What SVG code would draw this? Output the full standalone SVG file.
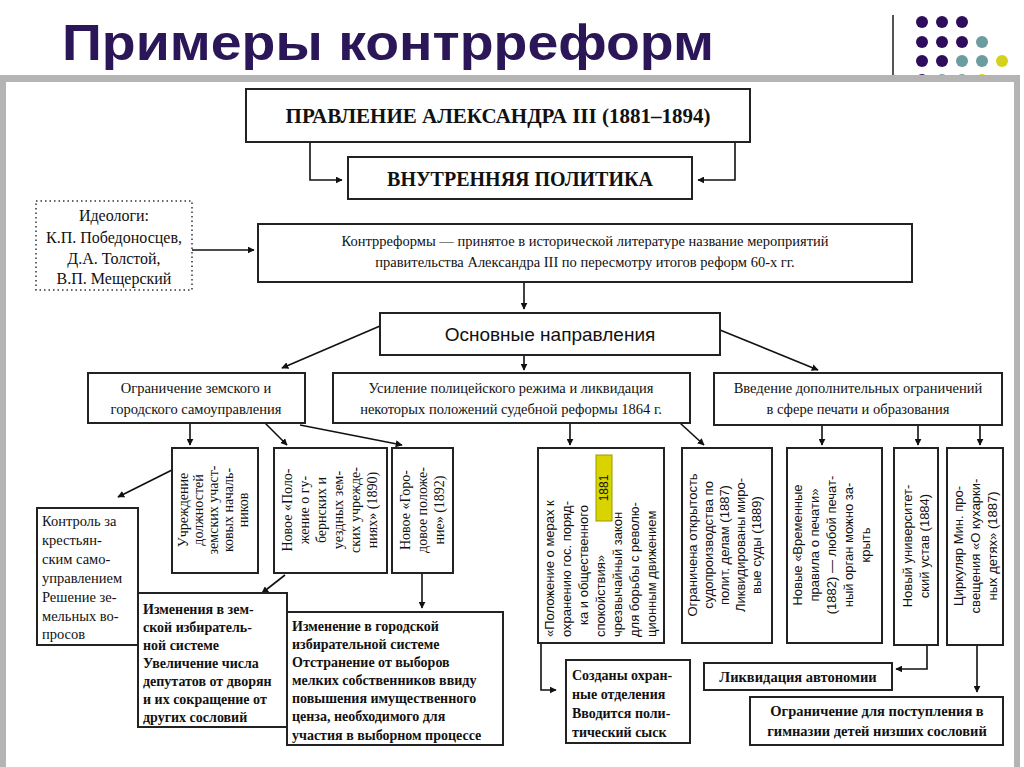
<svg xmlns="http://www.w3.org/2000/svg" width="1024" height="767" viewBox="0 0 1024 767">
<defs>
<marker id="ar" viewBox="0 0 10 10" refX="9" refY="5" markerWidth="7" markerHeight="7" orient="auto-start-reverse" markerUnits="userSpaceOnUse"><path d="M0,0 L10,5 L0,10 z" fill="#111"/></marker>
<style>
.b{fill:#fff;stroke:#222;stroke-width:2}
.t{font-family:"Liberation Serif",serif;fill:#111;text-anchor:middle}
.tb{font-family:"Liberation Serif",serif;font-weight:bold;fill:#111}
.s{font-family:"Liberation Sans",Arial,sans-serif;fill:#111;text-anchor:middle}
.c{fill:none;stroke:#111;stroke-width:1.6;marker-end:url(#ar)}
.dot{stroke:none}
</style>
</defs>
<rect width="1024" height="767" fill="#fff"/>
<text x="62" y="60" font-family="Liberation Sans,Arial,sans-serif" font-size="50" font-weight="bold" fill="#2b1657" textLength="652" lengthAdjust="spacingAndGlyphs">Примеры контрреформ</text>
<line x1="893" y1="15" x2="893" y2="75" stroke="#555" stroke-width="2"/>
<g class="dot">
<circle cx="922" cy="22" r="6" fill="#2e0d5c"/><circle cx="942" cy="22" r="6" fill="#2e0d5c"/><circle cx="962" cy="22" r="6" fill="#2e0d5c"/>
<circle cx="922" cy="42" r="6" fill="#2e0d5c"/><circle cx="942" cy="42" r="6" fill="#2e0d5c"/><circle cx="962" cy="42" r="6" fill="#2e0d5c"/><circle cx="982" cy="42" r="6" fill="#6a9ca0"/>
<circle cx="922" cy="61" r="6" fill="#2e0d5c"/><circle cx="942" cy="61" r="6" fill="#2e0d5c"/><circle cx="962" cy="61" r="6" fill="#6a9ca0"/><circle cx="982" cy="61" r="6" fill="#6a9ca0"/><circle cx="1002" cy="61" r="6" fill="#d4d21c"/>
<circle cx="922" cy="80" r="6" fill="#2e0d5c"/><circle cx="942" cy="80" r="6" fill="#6a9ca0"/><circle cx="962" cy="80" r="6" fill="#6a9ca0"/><circle cx="982" cy="80" r="6" fill="#d4d21c"/>
</g>
<path d="M0,75 H1020 V767 H1014 V82 H6 V767 H0 Z" fill="#b4b4b4"/>
<rect x="6" y="82" width="1008" height="685" fill="#fff"/>

<g id="connectors">
<path class="c" d="M310,142 V180 H342"/>
<path class="c" d="M735,142 V180 H698"/>
<path class="c" d="M192,250 H254"/>
<path class="c" d="M524,282 V309"/>
<path class="c" d="M380,326 L282,368"/>
<path class="c" d="M524,355 V370"/>
<path class="c" d="M720,330 L818,370"/>
<path class="c" d="M190,423 V445"/>
<path class="c" d="M265,423 L287,445"/>
<path class="c" d="M300,425 L402,445"/>
<path class="c" d="M172,470 L118,497"/>
<path class="c" d="M285,575 L262,593"/>
<path class="c" d="M422,573 V608"/>
<path class="c" d="M570,423 V445"/>
<path class="c" d="M680,423 L704,445"/>
<path class="c" d="M822,425 V445"/>
<path class="c" d="M918,425 V445"/>
<path class="c" d="M980,425 V445"/>
<path class="c" d="M541,643 V690 H556"/>
<path class="c" d="M927,645 V669 H896"/>
<path class="c" d="M977,645 V692"/>
</g>

<g id="n1"><rect class="b" x="246" y="89" width="504" height="53"/><text class="tb" x="498" y="123" text-anchor="middle" font-size="21">ПРАВЛЕНИЕ АЛЕКСАНДРА III (1881–1894)</text></g>
<g id="n2"><rect class="b" x="348" y="157" width="344" height="42"/><text class="tb" x="520" y="186" text-anchor="middle" font-size="20">ВНУТРЕННЯЯ ПОЛИТИКА</text></g>
<g id="n3"><rect x="36" y="201" width="156" height="89" fill="#fff" stroke="#333" stroke-width="1.5" stroke-dasharray="1.5,3"/>
<text class="t" font-size="16"><tspan x="114" y="221">Идеологи:</tspan><tspan x="114" y="243">К.П. Победоносцев,</tspan><tspan x="114" y="264">Д.А. Толстой,</tspan><tspan x="114" y="284">В.П. Мещерский</tspan></text></g>
<g id="n4"><rect class="b" x="258" y="224" width="654" height="58"/>
<text class="t" font-size="14.5"><tspan x="585" y="246">Контрреформы — принятое в исторической литературе название мероприятий</tspan><tspan x="585" y="267">правительства Александра III по пересмотру итогов реформ 60-х гг.</tspan></text></g>
<g id="n5"><rect class="b" x="380" y="313" width="340" height="42"/><text x="550" y="341" font-family="Liberation Sans,Arial,sans-serif" font-size="19" text-anchor="middle" fill="#111">Основные направления</text></g>
<g id="n6"><rect class="b" x="88" y="373" width="217" height="50"/><text class="t" font-size="14.5"><tspan x="196" y="393">Ограничение земского и</tspan><tspan x="196" y="414">городского самоуправления</tspan></text></g>
<g id="n7"><rect class="b" x="333" y="373" width="357" height="50"/><text class="t" font-size="14.5"><tspan x="511" y="393">Усиление полицейского режима и ликвидация</tspan><tspan x="511" y="414">некоторых положений судебной реформы 1864 г.</tspan></text></g>
<g id="n8"><rect class="b" x="714" y="373" width="288" height="52"/><text class="t" font-size="14.5"><tspan x="858" y="393">Введение дополнительных ограничений</tspan><tspan x="858" y="414">в сфере печати и образования</tspan></text></g>

<g id="n9"><rect class="b" x="172" y="448" width="86" height="125"/>
<text class="t" font-size="14" transform="translate(215,510) rotate(-90)"><tspan x="0" y="-27">Учреждение</tspan><tspan x="0" y="-12">должностей</tspan><tspan x="0" y="3">земских участ-</tspan><tspan x="0" y="18">ковых началь-</tspan><tspan x="0" y="33">ников</tspan></text></g>
<g id="n10"><rect class="b" x="274" y="448" width="113" height="125"/>
<text class="t" font-size="14" transform="translate(330,510) rotate(-90)"><tspan x="0" y="-38">Новое «Поло-</tspan><tspan x="0" y="-21">жение о гу-</tspan><tspan x="0" y="-4">бернских и</tspan><tspan x="0" y="13">уездных зем-</tspan><tspan x="0" y="30">ских учрежде-</tspan><tspan x="0" y="47">ниях» (1890)</tspan></text></g>
<g id="n11"><rect class="b" x="392" y="448" width="61" height="125"/>
<text class="t" font-size="14" transform="translate(422,510) rotate(-90)"><tspan x="0" y="-12">Новое «Горо-</tspan><tspan x="0" y="5">довое положе-</tspan><tspan x="0" y="22">ние» (1892)</tspan></text></g>
<g id="n12"><rect class="b" x="37" y="508" width="101" height="137"/>
<text class="t" font-size="14.5" style="text-anchor:start"><tspan x="42" y="526">Контроль за</tspan><tspan x="42" y="545">крестьян-</tspan><tspan x="42" y="564">ским само-</tspan><tspan x="42" y="583">управлением</tspan><tspan x="42" y="602">Решение зе-</tspan><tspan x="42" y="621">мельных во-</tspan><tspan x="42" y="639">просов</tspan></text></g>
<g id="n13"><rect class="b" x="138" y="593" width="149" height="134"/>
<text class="tb" font-size="14"><tspan x="143" y="614">Изменения в зем-</tspan><tspan x="143" y="632">ской избиратель-</tspan><tspan x="143" y="650">ной системе</tspan><tspan x="143" y="668">Увеличение числа</tspan><tspan x="143" y="686">депутатов от дворян</tspan><tspan x="143" y="704">и их сокращение от</tspan><tspan x="143" y="722">других сословий</tspan></text></g>
<g id="n14"><rect class="b" x="287" y="612" width="216" height="133"/>
<text class="tb" font-size="14"><tspan x="292" y="631">Изменение в городской</tspan><tspan x="292" y="649">избирательной системе</tspan><tspan x="292" y="667">Отстранение от выборов</tspan><tspan x="292" y="685">мелких собственников ввиду</tspan><tspan x="292" y="703">повышения имущественного</tspan><tspan x="292" y="721">ценза, необходимого для</tspan><tspan x="292" y="740">участия в выборном процессе</tspan></text></g>

<g id="n15"><rect class="b" x="538" y="448" width="126" height="195"/>
<rect x="596" y="455" width="16" height="66" fill="#d9d400" stroke="#9a9a00" stroke-width="1"/>
<text class="s" font-size="13" style="text-anchor:start" transform="translate(601,545) rotate(-90)"><tspan x="-92" y="-47">«Положение о мерах к</tspan><tspan x="-92" y="-30">охранению гос. поряд-</tspan><tspan x="-80" y="-13">ка и общественного</tspan><tspan x="-92" y="4">спокойствия»</tspan><tspan x="-92" y="21">чрезвычайный закон</tspan><tspan x="-92" y="38">для борьбы с револю-</tspan><tspan x="-92" y="55">ционным движением</tspan></text>
<text class="s" font-size="12" transform="translate(604,488) rotate(-90)" x="0" y="4">1881</text></g>
<g id="n16"><rect class="b" x="682" y="448" width="90" height="195"/>
<text class="s" font-size="13" transform="translate(727,545) rotate(-90)"><tspan x="0" y="-30">Ограничена открытость</tspan><tspan x="0" y="-14">судопроизводства по</tspan><tspan x="0" y="2">полит. делам (1887)</tspan><tspan x="0" y="18">Ликвидированы миро-</tspan><tspan x="0" y="34">вые суды (1889)</tspan></text></g>
<g id="n17"><rect class="b" x="787" y="448" width="95" height="195"/>
<text class="s" font-size="13" transform="translate(834,545) rotate(-90)"><tspan x="0" y="-32">Новые «Временные</tspan><tspan x="0" y="-15">правила о печати»</tspan><tspan x="0" y="2">(1882) — любой печат-</tspan><tspan x="0" y="19">ный орган можно за-</tspan><tspan x="0" y="36">крыть</tspan></text></g>
<g id="n18"><rect class="b" x="894" y="448" width="44" height="197"/>
<text class="s" font-size="13" transform="translate(916,546) rotate(-90)"><tspan x="0" y="-4">Новый университет-</tspan><tspan x="0" y="13">ский устав (1884)</tspan></text></g>
<g id="n19"><rect class="b" x="947" y="448" width="56" height="197"/>
<text class="s" font-size="13" transform="translate(975,546) rotate(-90)"><tspan x="0" y="-12">Циркуляр Мин. про-</tspan><tspan x="0" y="5">свещения «О кухарки-</tspan><tspan x="0" y="22">ных детях» (1887)</tspan></text></g>

<g id="n20"><rect class="b" x="566" y="660" width="124" height="83"/>
<text class="tb" font-size="14"><tspan x="572" y="680">Созданы охран-</tspan><tspan x="572" y="699">ные отделения</tspan><tspan x="572" y="718">Вводится поли-</tspan><tspan x="572" y="737">тический сыск</tspan></text></g>
<g id="n21"><rect class="b" x="704" y="663" width="188" height="27"/><text class="tb" x="798" y="682" text-anchor="middle" font-size="14.5">Ликвидация автономии</text></g>
<g id="n22"><rect class="b" x="750" y="697" width="253" height="48"/>
<text class="tb" font-size="14.5" text-anchor="middle"><tspan x="877" y="716">Ограничение для поступления в</tspan><tspan x="877" y="736">гимназии детей низших сословий</tspan></text></g>
</svg>
